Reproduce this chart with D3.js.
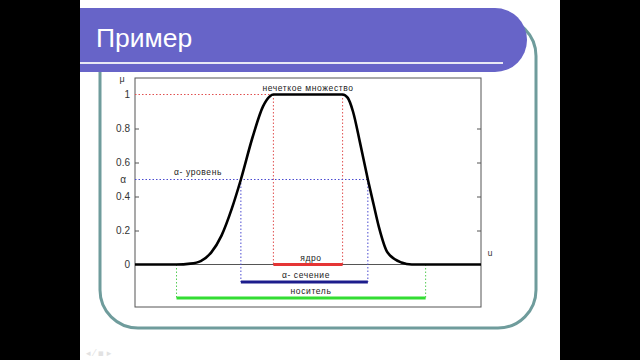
<!DOCTYPE html>
<html><head><meta charset="utf-8">
<script src="https://cdn.jsdelivr.net/npm/d3@7"></script>
<style>html,body{margin:0;padding:0;background:#000;}svg{display:block;}</style>
</head><body>
<svg id="c" width="640" height="360"></svg>
<script>
// ---- data ----
const title = "Пример";
const curveU  = [0, 12, 16, 19, 22, 25, 28, 30.6, 34, 37, 39, 40, 60, 61.5, 63, 65, 67.3, 69, 70.5, 73, 77, 80, 100];
const curveMu = [0, 0, 0.005, 0.02, 0.07, 0.17, 0.33, 0.5, 0.75, 0.93, 0.99, 1, 1, 0.98, 0.9, 0.72, 0.5, 0.35, 0.22, 0.07, 0.012, 0, 0];
const yTicks = [0, 0.2, 0.4, 0.6, 0.8, 1];
const yTickLabels = ["0", "0.2", "0.4", "0.6", "0.8", "1"];
const alphaLevel = 0.5;
const core = [40, 60];        // ядро
const alphaCut = [30.6, 67.3]; // α-сечение
const support = [12, 84];     // носитель
const labels = {top: "нечеткое множество", alpha: "α- уровень", core: "ядро", cut: "α- сечение", support: "носитель", mu: "μ", u: "u", alphaTick: "α"};

const svg = d3.select("#c");
// slide background
svg.append("rect").attr("x", 80).attr("y", 0).attr("width", 480).attr("height", 360).attr("fill", "#fff");
// teal rounded frame
svg.append("rect").attr("x", 100).attr("y", 18).attr("width", 436).attr("height", 310).attr("rx", 38)
  .attr("fill", "none").attr("stroke", "#6f9c9c").attr("stroke-width", 3);
// title banner
svg.append("path").attr("d", "M80,8 H495 A32,32 0 0 1 495,72 H80 Z").attr("fill", "#6764c8");
svg.append("line").attr("x1", 80).attr("x2", 503).attr("y1", 63).attr("y2", 63).attr("stroke", "#e8e8f4").attr("stroke-width", 2);
svg.append("text").attr("x", 96).attr("y", 47).attr("fill", "#fff").attr("font-family", "Liberation Sans, Arial, sans-serif")
  .attr("font-size", 26.5).text(title);
// faint nav icons
svg.append("text").attr("x", 86).attr("y", 356).attr("fill", "#e2e2e2").attr("font-size", 9).attr("font-family", "DejaVu Sans").text("◂ ⁄ ▪ ▸");

// plot area
const L = 135, R = 481, T = 78, B = 307;
const x = d3.scaleLinear().domain([0, 100]).range([L, R]);
const y = d3.scaleLinear().domain([0, 1]).range([264.5, 94.5]);
const g = svg.append("g");
g.append("rect").attr("x", L).attr("y", T).attr("width", R - L).attr("height", B - T)
  .attr("fill", "#fff").attr("stroke", "#555").attr("stroke-width", 1);

const font = "Liberation Sans, Arial, sans-serif";
// axes with inward ticks
const yl = g.append("g").attr("transform", `translate(${L},0)`)
  .call(d3.axisRight(y).tickValues(yTicks.slice(1, 5)).tickSize(4).tickFormat(""));
const yr = g.append("g").attr("transform", `translate(${R},0)`)
  .call(d3.axisLeft(y).tickValues(yTicks.slice(1, 5)).tickSize(4).tickFormat(""));
[yl, yr].forEach(a => { a.select(".domain").remove(); a.selectAll("line").attr("stroke", "#555"); });
g.selectAll(".ylab").data(yTicks).join("text").attr("class", "ylab")
  .attr("x", 130).attr("y", d => y(d) + 3.5).attr("text-anchor", "end")
  .attr("font-family", font).attr("font-size", 10).attr("fill", "#333")
  .text((d, i) => yTickLabels[i]);
g.append("text").attr("x", 126).attr("y", y(alphaLevel) + 3.5).attr("text-anchor", "end")
  .attr("font-family", font).attr("font-size", 10).attr("fill", "#333").text(labels.alphaTick);
g.append("text").attr("x", 122).attr("y", 82).attr("text-anchor", "middle")
  .attr("font-family", font).attr("font-size", 9).attr("fill", "#333").text(labels.mu);
g.append("text").attr("x", 490).attr("y", 256).attr("text-anchor", "middle")
  .attr("font-family", "DejaVu Sans, sans-serif").attr("font-size", 8).attr("fill", "#333").text(labels.u);

// zero line
g.append("line").attr("x1", L).attr("x2", R).attr("y1", y(0)).attr("y2", y(0)).attr("stroke", "#555").attr("stroke-width", 1);

// dotted guides
function dline(x1, y1, x2, y2, col) {
  g.append("line").attr("x1", x1).attr("y1", y1).attr("x2", x2).attr("y2", y2)
    .attr("stroke", col).attr("stroke-width", 1).attr("stroke-dasharray", "1.5,2");
}
const red = "#e05050", blue = "#4a4ad0", green = "#55cc55";
dline(L, y(1), x(core[0]), y(1), red);
dline(x(core[0]), y(1), x(core[0]), y(0), red);
dline(x(core[1]), y(1), x(core[1]), y(0), red);
const cutY = 282, supY = 298;
dline(L, y(alphaLevel), x(alphaCut[1]), y(alphaLevel), blue);
dline(x(alphaCut[0]), y(alphaLevel), x(alphaCut[0]), cutY, blue);
dline(x(alphaCut[1]), y(alphaLevel), x(alphaCut[1]), cutY, blue);
dline(x(support[0]), y(0), x(support[0]), supY, green);
dline(x(support[1]), y(0), x(support[1]), supY, green);

// intervals
g.append("line").attr("x1", x(core[0])).attr("x2", x(core[1])).attr("y1", y(0)).attr("y2", y(0)).attr("stroke", "#e53535").attr("stroke-width", 3);
g.append("line").attr("x1", x(alphaCut[0])).attr("x2", x(alphaCut[1])).attr("y1", cutY).attr("y2", cutY).attr("stroke", "#1c1c8c").attr("stroke-width", 3);
g.append("line").attr("x1", x(support[0])).attr("x2", x(support[1])).attr("y1", supY).attr("y2", supY).attr("stroke", "#33dd33").attr("stroke-width", 3);

// membership curve
const pts = curveU.map((u, i) => [u, curveMu[i]]);
g.append("path").datum(pts)
  .attr("d", d3.line().x(d => x(d[0])).y(d => y(d[1])).curve(d3.curveMonotoneX))
  .attr("fill", "none").attr("stroke", "#000").attr("stroke-width", 2.6).attr("stroke-linejoin", "round");

// labels
function lab(tx, ty, t, anchor) {
  g.append("text").attr("x", tx).attr("y", ty).attr("text-anchor", anchor || "middle")
    .attr("font-family", font).attr("font-size", 8.5).attr("letter-spacing", 0.6).attr("fill", "#222").text(t);
}
lab(308, 91, labels.top);
lab(198, 175, labels.alpha);
lab(311, 261, labels.core);
lab(306, 278, labels.cut);
lab(311, 294, labels.support);
</script>
</body></html>
